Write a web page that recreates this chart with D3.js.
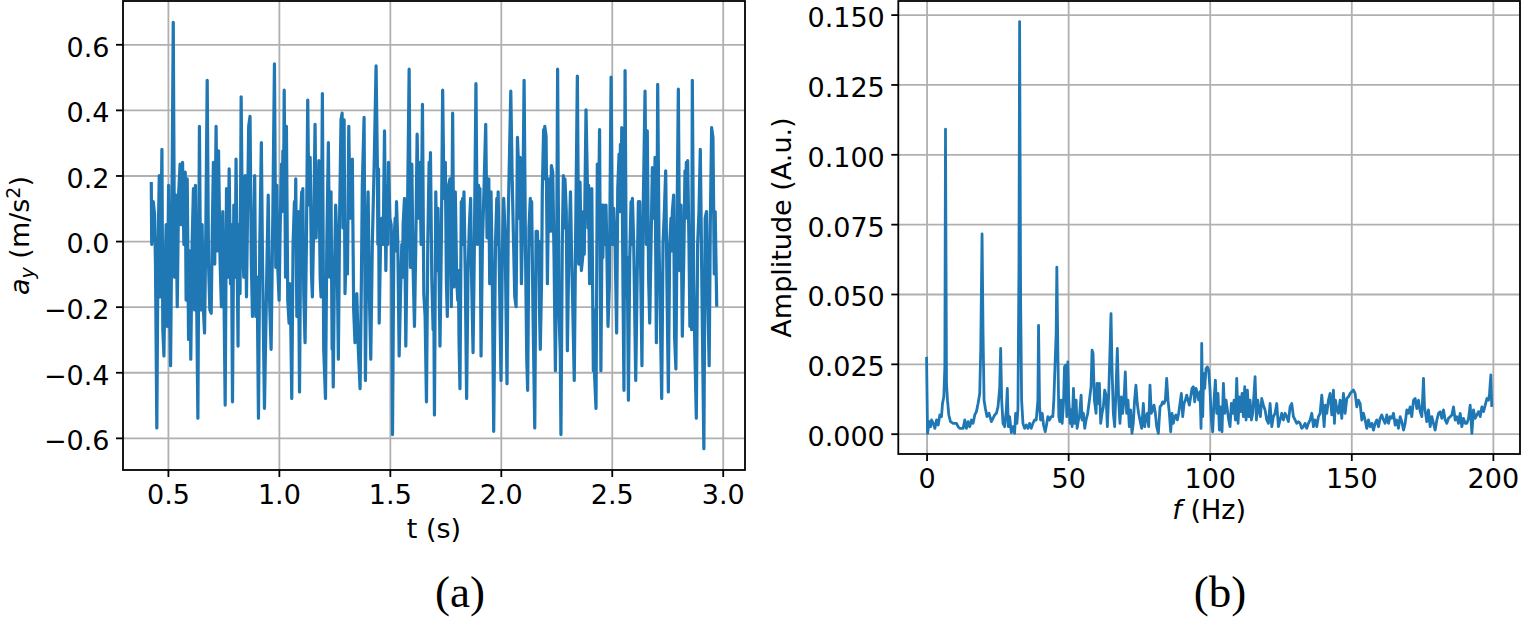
<!DOCTYPE html>
<html>
<head>
<meta charset="utf-8">
<script src="https://cdn.jsdelivr.net/npm/d3@7"></script>
<style>
  html, body { margin: 0; padding: 0; background: #fff; }
  svg { display: block; }
</style>
</head>
<body>
<svg id="chart"></svg>
<script>
// (a) vertical acceleration, [time in ms, a_y in m/s^2]
const accelSamples = [
  [425,0.18],[427,-0.01],[434,0.12],[440,0.08],[444,-0.07],[450,-0.57],[455,-0.05],[461,0.2],[465,-0.17],[473,0.28],
  [477,-0.27],[482,-0.35],[488,-0.07],[492,0.05],[497,-0.26],[503,0.17],[507,-0.16],[512,-0.38],[518,0.09],[524,0.667],
  [530,-0.11],[536,0.14],[542,-0.2],[548,0.14],[555,0.235],[560,0.05],[566,0.24],[572,-0.01],[578,0.21],[582,-0.18],
  [587,0.19],[593,-0.3],[599,-0.03],[603,-0.36],[609,-0.01],[615,0.16],[620,-0.21],[624,0.17],[630,-0.21],[635,-0.54],
  [642,0.35],[648,-0.21],[654,0.05],[660,-0.21],[665,-0.28],[671,0.04],[677,0.49],[683,-0.07],[689,-0.21],[695,-0.22],
  [699,-0.01],[705,0.24],[711,-0.07],[717,0.35],[723,-0.03],[728,0.275],[735,-0.06],[741,-0.2],[747,0.09],[753,-0.19],
  [758,-0.5],[764,0.16],[770,-0.11],[776,0.22],[782,-0.13],[786,0.05],[791,-0.49],[797,0.11],[803,-0.11],[807,0.25],
  [813,-0.13],[816,-0.32],[819,0.05],[825,-0.16],[830,0.44],[836,-0.01],[842,-0.11],[848,0.2],[854,-0.17],[860,0.15],
  [864,0.35],[870,0.38],[876,-0.07],[881,-0.23],[887,0.04],[891,0.2],[896,-0.23],[902,-0.11],[908,-0.54],[914,-0.01],
  [921,0.3],[926,-0.05],[935,-0.51],
  [946,-0.08],[952,0.14],[958,-0.18],[965,-0.33],[973,0.09],[980,0.54],[986,-0.08],[991,0.17],[995,-0.08],[1001,-0.18],
  [1006,0.05],[1012,0.235],[1015,0.09],[1018,0.275],[1021,0.13],[1024,0.46],[1030,-0.11],[1034,0.35],[1040,-0.18],[1046,-0.25],
  [1049,-0.13],[1052,-0.17],[1058,-0.48],[1064,-0.01],[1070,0.12],[1073,-0.01],[1076,0.19],[1081,-0.23],[1087,0.09],[1093,-0.46],
  [1099,0.09],[1103,0.15],[1105,-0.01],[1108,0.16],[1112,-0.16],[1118,-0.31],[1124,-0.01],[1130,0.43],[1135,0.11],[1141,0.255],
  [1147,-0.1],[1151,-0.17],[1157,0.05],[1163,0.356],[1168,0.01],[1174,0.21],[1177,0.09],[1180,0.245],[1186,-0.11],[1190,-0.17],
  [1196,0.45],[1202,-0.33],[1210,-0.48],[1216,-0.01],[1223,0.3],[1229,-0.11],[1235,0.15],[1240,-0.33],[1242,-0.22],[1245,-0.445],
  [1250,-0.11],[1256,0.11],[1262,-0.01],[1268,-0.36],[1274,0.09],[1280,0.37],[1285,0.39],[1289,0.04],[1294,0.37],[1298,-0.16],
  [1303,-0.03],[1309,-0.1],[1315,0.35],[1321,0.07],[1325,0.19],[1328,0.09],[1331,0.25],[1337,-0.21],[1343,-0.31],[1351,-0.16],
  [1358,-0.33],[1366,-0.45],[1372,-0.11],[1376,0.17],[1384,0.377],[1390,-0.425],[1396,-0.03],[1402,0.15],[1408,-0.17],[1414,-0.36],
  [1421,-0.01],[1429,0.22],[1438,0.534],[1444,0.22],[1446,-0.01],[1449,0.22],[1452,-0.25],
  [1458,-0.01],[1464,0.07],[1470,-0.01],[1476,0.336],[1482,-0.09],[1488,0.17],[1491,-0.01],[1494,0.24],[1500,0.07],[1506,0.05],
  [1509,-0.11],[1512,-0.59],[1518,-0.01],[1524,0.07],[1527,-0.03],[1530,0.12],[1536,-0.01],[1542,-0.35],[1548,-0.16],[1554,-0.01],
  [1557,-0.11],[1560,0.05],[1566,0.13],[1572,-0.32],[1578,-0.01],[1587,0.524],[1593,-0.08],[1599,0.235],[1605,-0.09],[1611,-0.26],
  [1617,-0.01],[1623,0.326],[1629,0.07],[1635,0.24],[1641,-0.01],[1647,0.417],[1653,-0.16],[1659,-0.23],[1665,-0.49],[1671,-0.01],
  [1677,0.24],[1680,0.09],[1683,0.27],[1689,-0.11],[1695,-0.27],[1698,-0.16],[1701,-0.53],[1707,0.15],[1713,-0.09],[1717,0.1],
  [1722,-0.11],[1726,-0.32],[1732,-0.01],[1738,0.46],[1744,0.13],[1750,0.24],[1755,-0.13],[1759,-0.23],[1765,0.17],[1771,0.19],
  [1777,-0.2],[1783,0.39],[1789,-0.14],[1795,0.15],[1801,-0.11],[1806,-0.18],[1809,-0.09],[1812,-0.31],[1816,-0.45],[1822,0.12],
  [1825,-0.01],[1828,0.13],[1831,-0.01],[1834,0.15],[1840,-0.11],[1846,-0.48],[1852,-0.11],[1858,0.04],[1864,0.13],[1869,-0.13],
  [1875,-0.34],[1881,-0.01],[1888,0.48],[1894,-0.01],[1900,0.17],[1903,0.04],[1906,0.16],[1911,-0.35],[1917,-0.01],[1924,0.15],
  [1932,0.356],[1938,0.01],[1946,0.19],[1950,-0.13],[1956,0.15],[1962,-0.13],[1968,-0.58],
  [1976,-0.01],[1982,0.13],[1985,-0.01],[1988,0.15],[1994,-0.11],[2001,-0.425],[2007,-0.03],[2013,0.13],[2019,0.03],[2024,-0.23],
  [2028,-0.435],[2034,0.09],[2045,0.457],[2051,0.2],[2057,0.01],[2063,-0.17],[2069,-0.2],[2075,0.316],[2081,0.21],[2084,0.07],
  [2087,0.255],[2093,-0.13],[2099,0.09],[2105,0.49],[2111,-0.01],[2117,-0.36],[2121,-0.455],[2127,0.04],[2133,0.13],[2136,-0.01],
  [2139,0.12],[2145,-0.21],[2153,-0.57],[2159,0.03],[2165,0.03],[2168,-0.05],[2171,0],[2175,-0.23],[2178,-0.33],[2184,-0.11],
  [2187,0.15],[2193,0.34],[2195,0.19],[2198,0.35],[2204,0.32],[2210,-0.13],[2216,0.19],[2222,0.17],[2225,0.03],[2228,0.23],
  [2234,0.21],[2240,-0.05],[2246,-0.395],[2252,-0.01],[2256,0.524],[2262,-0.21],[2268,-0.34],[2271,-0.59],[2277,-0.01],[2282,0.2],
  [2286,0.04],[2289,0.19],[2295,0.09],[2300,-0.334],[2306,-0.06],[2314,0.15],[2318,-0.01],[2324,-0.19],[2331,-0.425],[2337,0],
  [2345,0.503],[2351,-0.07],[2357,0.18],[2363,-0.09],[2369,-0.05],[2372,0.09],[2376,-0.04],[2384,0.4],[2390,0.18],[2393,0.04],
  [2396,0.17],[2400,-0.13],[2405,-0.01],[2410,0.16],[2417,-0.395],[2420,-0.21],[2423,-0.415],[2429,-0.51],[2435,0.235],[2441,0.09],
  [2445,0.34],[2451,-0.395],[2457,0.11],[2460,-0.05],[2463,0.11],[2469,-0.01],[2474,0.11],[2478,-0.03],[2483,-0.26],[2489,-0.14],
  [2497,0.5],[2503,-0.01],[2509,0.1],[2515,-0.01],[2522,-0.28],[2527,0.16],[2533,0.265],[2536,0.09],[2539,0.295],[2542,0.14],
  [2545,0.346],[2551,-0.17],[2555,-0.455],[2560,0.52],[2566,-0.17],[2570,-0.05],[2575,-0.485],[2581,-0.05],[2587,0.12],[2590,-0.01],
  [2593,0.13],[2599,-0.01],[2608,-0.425],[2614,-0.13],[2620,0.12],[2623,-0.01],[2626,0.12],[2632,-0.17],[2636,-0.38],[2642,0.11],
  [2650,0.457],[2656,-0.01],[2660,0.336],[2666,-0.11],[2671,-0.25],[2677,-0.01],[2683,0.224],[2686,0.07],[2689,0.2],[2692,0.09],
  [2695,0.255],[2701,-0.31],[2707,0.478],[2713,-0.01],[2719,-0.24],[2725,-0.48],[2731,-0.01],[2737,0.09],[2743,0.214],[2749,-0.15],
  [2755,-0.46],[2761,-0.01],[2767,0.07],[2770,-0.03],[2773,0.09],[2779,0.14],[2783,-0.29],[2789,-0.39],[2795,0.11],[2800,0.463],
  [2806,-0.09],[2812,0.11],[2818,-0.29],[2824,-0.07],[2830,0.214],[2833,0.07],[2836,0.24],[2839,0.09],[2842,0.245],[2848,-0.01],
  [2852,-0.26],[2856,-0.1],[2860,-0.27],[2863,0.49],[2869,-0.11],[2875,-0.35],[2881,-0.54],[2887,-0.01],[2893,0.09],[2899,0.28],
  [2905,-0.07],[2911,-0.415],[2915,-0.633],[2921,0.07],[2927,0.09],[2933,-0.19],[2939,-0.38],[2944,0.05],[2950,0.346],[2956,0.316],
  [2962,-0.1],[2966,0.09],[2973,-0.2]
];

// (b) amplitude spectrum, [frequency in Hz, amplitude in A.u.]
const spectrumSamples = [
  [0,0.0275],[0.35,0.0001],[0.94,0.0043],[1.41,0.0025],[1.76,0.0049],[2.35,0.0037],[2.93,0.0019],[3.52,0.0049],[4.11,0.0031],[4.69,0.0067],
  [5.28,0.0061],[5.63,0.0108],[6.1,0.0132],[6.46,0.0239],[6.69,0.109],[7.04,0.018],[7.39,0.012],[7.86,0.0067],[8.45,0.0043],[9.39,0.0037],
  [10.56,0.0037],[11.15,0.0025],[11.74,0.0019],[12.91,0.0019],[13.5,0.0049],[14.08,0.0019],[14.67,0.0043],[15.26,0.0025],[15.85,0.0049],[16.43,0.0037],
  [17.02,0.0067],[17.61,0.0079],[18.19,0.0108],[18.78,0.0144],[19.13,0.0299],[19.6,0.0715],[19.95,0.0358],[20.31,0.012],[20.77,0.009],[21.36,0.0061],
  [22.07,0.0073],[22.89,0.0043],[23.47,0.0055],[24.06,0.0067],[24.65,0.0073],[25.23,0.0096],[25.82,0.0162],[26.17,0.0305],[26.53,0.012],[27,0.0037],
  [27.58,0.0025],[28.17,0.0085],[28.52,0.0162],[28.87,0.0025],[29.34,0.0061],[29.93,0.0004],[30.52,0.0025],[31.1,0.0001],[31.46,0.0073],[31.92,0.0037],
  [32.28,0.009],[32.63,0.0596],[32.86,0.1475],[33.22,0.0477],[33.57,0.012],[34.04,0.0037],[34.62,0.0019],[35.21,0.0031],[35.8,0.0019],[36.38,0.0037],
  [36.97,0.0019],[37.56,0.0037],[38.15,0.0049],[38.73,0.0049],[39.32,0.012],[39.55,0.0388],[39.91,0.0096],[40.26,0.0049],[40.85,0.0073],[41.31,0.0031],
  [41.9,0.0007],[42.25,0.0025],[42.84,0.0061],[43.43,0.0049],[44.01,0.0061],[44.6,0.0061],[44.95,0.012],[45.31,0.0227],[45.77,0.0358],[46.01,0.0596],
  [46.36,0.0299],[46.71,0.0061],[47.07,0.0043],[47.54,0.012],[47.89,0.0037],[48.36,0.0108],[48.71,0.0239],[49.06,0.0245],[49.53,0.0061],[49.88,0.0257],
  [50.23,0.012],[50.7,0.0037],[51.06,0.0085],[51.41,0.0025],[51.88,0.0162],[52.35,0.0037],[52.82,0.012],[53.17,0.0019],[53.64,0.0049],[53.99,0.0061],
  [54.58,0.0138],[54.93,0.0049],[55.4,0.0073],[55.87,0.0019],[56.34,0.0049],[56.92,0.0073],[57.51,0.012],[58.1,0.0168],[58.45,0.0299],[58.8,0.0287],
  [59.27,0.012],[59.86,0.0073],[60.21,0.018],[60.68,0.0108],[61.03,0.018],[61.5,0.0037],[61.97,0.0073],[62.44,0.0096],[62.91,0.0156],[63.38,0.0138],
  [63.85,0.0025],[64.32,0.0138],[64.79,0.0299],[65.14,0.043],[65.49,0.0239],[65.96,0.0073],[66.43,0.0025],[66.9,0.0156],[67.37,0.0305],[67.84,0.012],
  [68.31,0.0037],[68.78,0.0132],[69.25,0.0073],[69.72,0.012],[70.19,0.0221],[70.66,0.0073],[71.13,0.012],[71.6,0.0025],[72.07,0.0085],[72.54,0.0001],
  [73,0.0037],[73.47,0.012],[73.94,0.0174],[74.41,0.0108],[74.88,0.0073],[75.97,0.0019],[76.56,0.0108],[77.03,0.0025],[77.5,0.0061],[77.97,0.0073],
  [78.44,0.0025],[78.91,0.0174],[79.38,0.0073],[79.86,0.0085],[80.33,0.0102],[80.8,0.0073],[81.27,0.0025],[81.86,0.0001],[82.45,0.0096],[82.92,0.0102],
  [83.39,0.0114],[83.86,0.0108],[84.33,0.012],[84.8,0.0198],[85.27,0.012],[85.75,0.0073],[86.22,0.0007],[86.69,0.0073],[87.16,0.0037],[87.63,0.0061],
  [88.1,0.0067],[88.57,0.0049],[89.04,0.0073],[89.51,0.0108],[89.99,0.0144],[90.46,0.0061],[90.93,0.0108],[91.4,0.012],[91.87,0.0138],[92.34,0.012],
  [92.81,0.0102],[93.28,0.0132],[93.75,0.0162],[94.23,0.0168],[94.7,0.0114],[95.17,0.0162],[95.64,0.0144],[96.11,0.012],[96.58,0.015],[96.94,0.0019],
  [97.17,0.0323],[97.52,0.0061],[97.88,0.0215],[98.23,0.0162],[98.7,0.0233],[99.17,0.0239],[99.64,0.0227],[100.11,0.0156],[100.59,0.0049],[101.06,0.0007],
  [101.53,0.012],[102,0.0192],[102.47,0.0073],[102.94,0.0144],[103.41,0.0013],[103.88,0.0096],[104.35,0.0007],[104.83,0.018],[105.3,0.0073],[105.77,0.012],
  [106.24,0.0085],[106.71,0.0049],[107.18,0.0025],[107.65,0.0108],[108.12,0.0073],[108.59,0.012],[109.07,0.0049],[109.54,0.0198],[110.01,0.0037],[110.48,0.0132],
  [110.95,0.0079],[111.42,0.0144],[111.89,0.0061],[112.36,0.0168],[112.84,0.0049],[113.31,0.0156],[113.78,0.0061],[114.25,0.012],[114.72,0.0049],[115.19,0.0073],
  [115.66,0.0144],[116.02,0.0204],[116.49,0.0049],[116.96,0.012],[117.43,0.0085],[117.9,0.0061],[118.37,0.0126],[118.96,0.0102],[119.55,0.0085],[120.14,0.0049],
  [120.73,0.0037],[121.32,0.0108],[121.91,0.0025],[122.49,0.0061],[123.08,0.0073],[123.67,0.0108],[124.26,0.0025],[124.85,0.0049],[125.44,0.0073],[126.03,0.0049],
  [126.62,0.0073],[127.21,0.0061],[127.79,0.0043],[128.38,0.0096],[128.97,0.0108],[129.56,0.0061],[130.15,0.0049],[130.74,0.0037],[131.33,0.0043],[131.92,0.0037],
  [132.51,0.0019],[133.09,0.0025],[133.68,0.0037],[134.27,0.0019],[134.86,0.0037],[135.45,0.0049],[136.04,0.0073],[136.63,0.0025],[137.22,0.0049],[137.81,0.0025],
  [138.39,0.0061],[138.98,0.0073],[139.57,0.0138],[139.93,0.0096],[140.4,0.0025],[140.87,0.0102],[141.34,0.0073],[141.93,0.012],[142.52,0.0144],[143.11,0.0067],
  [143.7,0.0156],[144.05,0.0037],[144.4,0.012],[144.87,0.009],[145.46,0.0073],[146.05,0.012],[146.64,0.0055],[147.23,0.0144],[147.82,0.0073],[148.41,0.0126],
  [149,0.0132],[149.59,0.0144],[150.17,0.015],[150.76,0.0156],[151.35,0.0144],[151.94,0.0096],[152.53,0.012],[153.12,0.0108],[153.71,0.0049],[154.3,0.0073],
  [154.89,0.0049],[155.47,0.0019],[156.06,0.0049],[156.65,0.0025],[157.24,0.0037],[157.83,0.0013],[158.42,0.0037],[159.01,0.0049],[159.6,0.0025],[160.19,0.0055],
  [160.77,0.0067],[161.36,0.0049],[161.95,0.0037],[162.54,0.0067],[163.13,0.0037],[163.72,0.0061],[164.31,0.0055],[164.9,0.0073],[165.49,0.0031],[166.07,0.0049],
  [166.66,0.0019],[167.25,0.0061],[167.84,0.0043],[168.43,0.0013],[169.02,0.0037],[169.61,0.0085],[170.2,0.0073],[170.79,0.0096],[171.37,0.0061],[171.96,0.012],
  [172.55,0.0126],[173.14,0.009],[173.73,0.012],[174.32,0.0079],[174.91,0.0061],[175.5,0.0198],[175.85,0.0096],[176.32,0.0067],[176.67,0.0043],[177.26,0.0085],
  [177.85,0.0025],[178.44,0.0061],[179.03,0.0037],[179.62,0.0013],[180.21,0.0049],[180.8,0.0073],[181.39,0.0079],[181.97,0.0055],[182.56,0.0085],[183.15,0.0049],
  [183.74,0.0037],[184.33,0.0055],[184.92,0.0061],[185.51,0.0067],[186.1,0.0096],[186.69,0.0049],[187.27,0.0061],[187.86,0.0037],[188.45,0.0073],[189.04,0.0025],
  [189.63,0.0055],[190.22,0.0037],[190.81,0.0037],[191.4,0.0055],[191.99,0.0102],[192.58,0.0001],[193.16,0.0085],[193.75,0.0055],[194.34,0.0067],[194.93,0.0079],
  [195.52,0.0061],[196.11,0.0096],[196.7,0.0079],[197.29,0.0102],[197.88,0.0126],[198.47,0.012],[198.82,0.0144],[199.29,0.021],[199.6,0.0096]
];

const timeTicks = [0.5, 1.0, 1.5, 2.0, 2.5, 3.0];
const accelTicks = [-0.6, -0.4, -0.2, 0.0, 0.2, 0.4, 0.6];
const freqTicks = [0, 50, 100, 150, 200];
const ampTicks = [0, 0.025, 0.05, 0.075, 0.1, 0.125, 0.15];
const panelLabels = ["(a)", "(b)"];

const width = 1521;
const height = 619;
const lineColour = "#1f77b4";
const gridColour = "#b0b0b0";
const fontSans = "'DejaVu Sans', sans-serif";
const fontSize = 27;

const svg = d3.select("#chart").attr("width", width).attr("height", height);
svg.append("rect").attr("width", width).attr("height", height).attr("fill", "#fff");

// matplotlib-style 5% margin around the data range
function padded([lo, hi]) {
  const pad = (hi - lo) * 0.05;
  return [lo - pad, hi + pad];
}

function drawPanel(id, box, samples, xTicks, yTicks, xFmt, yFmt, lineWidth) {
  const innerH = box.bottom - box.top;
  const innerW = box.right - box.left;

  const x = d3.scaleLinear()
    .domain(padded(d3.extent(samples, d => d[0])))
    .range([box.left, box.right]);
  const y = d3.scaleLinear()
    .domain(padded(d3.extent(samples, d => d[1])))
    .range([box.bottom, box.top]);

  const g = svg.append("g").attr("class", id);

  // Grid lines
  g.append("g")
    .attr("transform", `translate(0,${box.bottom})`)
    .call(d3.axisBottom(x).tickValues(xTicks).tickSize(-innerH).tickFormat(""))
    .call(s => s.select(".domain").remove())
    .selectAll("line").attr("stroke", gridColour).attr("stroke-width", 1.8);

  g.append("g")
    .attr("transform", `translate(${box.left},0)`)
    .call(d3.axisLeft(y).tickValues(yTicks).tickSize(-innerW).tickFormat(""))
    .call(s => s.select(".domain").remove())
    .selectAll("line").attr("stroke", gridColour).attr("stroke-width", 1.8);

  // Data line
  g.append("clipPath").attr("id", `clip-${id}`)
    .append("rect")
    .attr("x", box.left).attr("y", box.top)
    .attr("width", innerW).attr("height", innerH);

  const line = d3.line().x(d => x(d[0])).y(d => y(d[1]));
  g.append("path")
    .datum(samples)
    .attr("clip-path", `url(#clip-${id})`)
    .attr("fill", "none")
    .attr("stroke", lineColour)
    .attr("stroke-width", lineWidth)
    .attr("stroke-linejoin", "round")
    .attr("d", line);

  // Axes
  const xAxis = g.append("g")
    .attr("transform", `translate(0,${box.bottom})`)
    .call(d3.axisBottom(x).tickValues(xTicks).tickSize(7).tickPadding(8).tickFormat(xFmt));
  const yAxis = g.append("g")
    .attr("transform", `translate(${box.left},0)`)
    .call(d3.axisLeft(y).tickValues(yTicks).tickSize(7).tickPadding(6.5).tickFormat(yFmt));

  [xAxis, yAxis].forEach(a => {
    a.select(".domain").remove();
    a.attr("font-family", fontSans).attr("font-size", fontSize);
    a.selectAll("line").attr("stroke", "#000").attr("stroke-width", 1.8);
    a.selectAll("text").attr("fill", "#000");
  });
  yAxis.selectAll("text").attr("dy", "0.44em");

  // Spines
  g.append("rect")
    .attr("x", box.left).attr("y", box.top)
    .attr("width", innerW).attr("height", innerH)
    .attr("fill", "none")
    .attr("stroke", "#000")
    .attr("stroke-width", 1.8);

  return g;
}

// Panel (a): time signal
const boxA = { left: 123, right: 745, top: 1, bottom: 470 };
const accelData = accelSamples.map(([ms, a]) => [ms / 1000, a]);
drawPanel("ay", boxA, accelData, timeTicks, accelTicks, d3.format(".1f"), d3.format(".1f"), 3.2);

// Panel (b): spectrum
const boxB = { left: 898.3, right: 1520, top: 1, bottom: 454 };
drawPanel("fft", boxB, spectrumSamples, freqTicks, ampTicks, d3.format("d"), d3.format(".3f"), 2.8);

// Axis labels
const labelStyle = sel => sel
  .attr("font-family", fontSans)
  .attr("font-size", fontSize)
  .attr("fill", "#000")
  .style("white-space", "pre");

svg.append("text").call(labelStyle)
  .attr("x", (boxA.left + boxA.right) / 2).attr("y", 538)
  .attr("text-anchor", "middle")
  .text("t (s)");

const yLabA = svg.append("text").call(labelStyle)
  .attr("transform", `translate(29,${(boxA.top + boxA.bottom) / 2}) rotate(-90)`)
  .attr("text-anchor", "middle");
yLabA.append("tspan").attr("font-style", "italic").text("a");
yLabA.append("tspan").attr("font-style", "italic").attr("font-size", 19).attr("dy", 5).text("y");
yLabA.append("tspan").attr("dy", -5).text(" (m/s");
yLabA.append("tspan").attr("font-size", 19).attr("dy", -9).text("2");
yLabA.append("tspan").attr("dy", 9).text(")");

const xLabB = svg.append("text").call(labelStyle)
  .attr("x", (boxB.left + boxB.right) / 2).attr("y", 519)
  .attr("text-anchor", "middle");
xLabB.append("tspan").attr("font-style", "italic").text("f");
xLabB.append("tspan").text(" (Hz)");

svg.append("text").call(labelStyle)
  .attr("transform", `translate(791,${(boxB.top + boxB.bottom) / 2}) rotate(-90)`)
  .attr("text-anchor", "middle")
  .text("Amplitude (A.u.)");

// Sub-figure captions
svg.selectAll("text.caption")
  .data(panelLabels)
  .join("text")
  .attr("class", "caption")
  .attr("x", (d, i) => [460, 1220][i])
  .attr("y", 607)
  .attr("text-anchor", "middle")
  .attr("font-family", "'Liberation Serif', 'Times New Roman', serif")
  .attr("font-size", 45)
  .attr("fill", "#000")
  .text(d => d);
</script>
</body>
</html>
